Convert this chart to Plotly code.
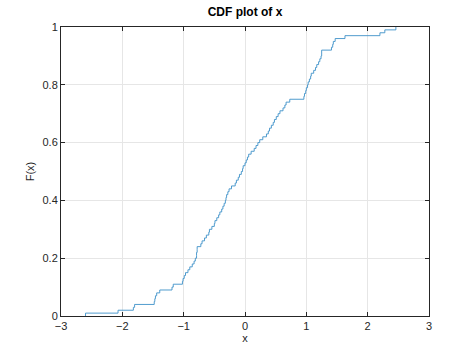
import numpy as np
import plotly.graph_objects as go

# Sorted sample values (100 samples, step 0.01)
samples = [
    -2.60, -2.07, -1.82, -1.80, -1.48, -1.47, -1.46, -1.44, -1.39, -1.19,
    -1.17, -1.02, -1.01, -0.99, -0.97, -0.93, -0.90, -0.86, -0.83, -0.81,
    -0.79, -0.79, -0.78, -0.78, -0.72, -0.70, -0.66, -0.63, -0.59, -0.58,
    -0.54, -0.50, -0.49, -0.46, -0.43, -0.41, -0.38, -0.36, -0.34, -0.32,
    -0.31, -0.30, -0.28, -0.26, -0.22, -0.16, -0.14, -0.11, -0.09, -0.06,
    -0.04, -0.03, 0.00, 0.02, 0.04, 0.06, 0.10, 0.15, 0.18, 0.21,
    0.24, 0.29, 0.35, 0.38, 0.40, 0.43, 0.46, 0.48, 0.51, 0.54,
    0.57, 0.62, 0.65, 0.67, 0.73, 0.96, 0.97, 0.99, 1.00, 1.02,
    1.03, 1.05, 1.07, 1.08, 1.12, 1.15, 1.17, 1.20, 1.22, 1.24,
    1.25, 1.25, 1.41, 1.43, 1.44, 1.47, 1.63, 2.20, 2.28, 2.46,
]
x_ticks = [-3, -2, -1, 0, 1, 2, 3]
y_ticks = [0, 0.2, 0.4, 0.6, 0.8, 1]
y_tick_text = ["0", "0.2", "0.4", "0.6", "0.8", "1"]

xs = np.sort(np.array(samples))
n = len(xs)
F = np.arange(1, n + 1) / n
x_plot = np.concatenate([[xs[0]], xs])
y_plot = np.concatenate([[0.0], F])

fig = go.Figure()
fig.add_trace(go.Scatter(
    x=x_plot, y=y_plot, mode="lines", line_shape="hv",
    line=dict(color="#3d91c8", width=0.9), showlegend=False,
))

axis_common = dict(
    showline=True, linecolor="#262626", linewidth=1, mirror="ticks",
    ticks="inside", ticklen=4, tickcolor="#262626",
    showgrid=True, gridcolor="#e6e6e6", gridwidth=1, zeroline=False,
    tickfont=dict(family="Liberation Sans, Arial, sans-serif", size=11, color="#262626"),
)

fig.update_layout(
    width=474, height=355,
    margin=dict(l=61, r=45, t=27, b=39),
    paper_bgcolor="white", plot_bgcolor="white",
    title=dict(text="<b>CDF plot of x</b>", x=(61 + 429) / 2 / 474, xanchor="center",
               y=1 - 12 / 355, yanchor="middle",
               font=dict(family="Liberation Sans, Arial, sans-serif", size=12, color="#000000")),
    xaxis=dict(range=[-3, 3], tickvals=x_ticks, title=dict(text="x", standoff=3,
               font=dict(family="Liberation Sans, Arial, sans-serif", size=11, color="#262626")),
               **axis_common),
    yaxis=dict(range=[0, 1], tickvals=y_ticks, ticktext=y_tick_text,
               title=dict(text="F(x)", standoff=5,
               font=dict(family="Liberation Sans, Arial, sans-serif", size=11, color="#262626")),
               **axis_common),
)

fig.write_html("out.html")
